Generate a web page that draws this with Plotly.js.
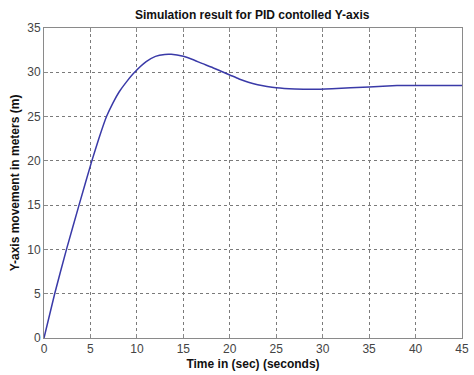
<!DOCTYPE html>
<html>
<head>
<meta charset="utf-8">
<script src="https://cdn.plot.ly/plotly-3.0.1.min.js"></script>
<style>html,body{margin:0;padding:0;background:#fff;}#chart{width:474px;height:375px;}</style>
</head>
<body>
<div id="chart"></div>
<script>
const timeSec = [0, 1.15, 2.42, 3.77, 5.15, 5.9, 6.73, 7.4, 8.1, 8.9, 9.75, 11, 12, 13, 13.7, 15, 16, 17, 18, 19, 20, 21, 22, 23, 24, 25, 27, 29, 31, 35, 38, 40, 45];
const yMovement = [0, 5, 10, 15, 20, 22.5, 25, 26.5, 27.8, 28.95, 30, 31.2, 31.8, 32.02, 32.03, 31.8, 31.45, 31.0, 30.6, 30.15, 29.7, 29.25, 28.88, 28.6, 28.4, 28.25, 28.12, 28.08, 28.15, 28.35, 28.5, 28.52, 28.52];
const xTicks = [0, 5, 10, 15, 20, 25, 30, 35, 40, 45];
const yTicks = [0, 5, 10, 15, 20, 25, 30, 35];

const font = 'Liberation Sans, Arial, sans-serif';
const axisCommon = {
  showline: true, mirror: 'ticks', linecolor: '#8a8a8a', linewidth: 1,
  ticks: 'inside', ticklen: 4, tickcolor: '#8a8a8a',
  showgrid: true, gridcolor: '#7a7a7a', griddash: 'dot', gridwidth: 1,
  zeroline: false,
  tickfont: {family: font, size: 12, color: '#444'}
};
Plotly.newPlot('chart', [{
  x: timeSec, y: yMovement, type: 'scatter', mode: 'lines',
  line: {color: '#3a3aa8', width: 1.5, shape: 'spline', smoothing: 0.5},
  hoverinfo: 'skip'
}], {
  width: 474, height: 375,
  margin: {l: 44, r: 12, t: 28, b: 37},
  paper_bgcolor: '#fff', plot_bgcolor: '#fff',
  showlegend: false,
  title: {text: '<b>Simulation result for PID contolled Y-axis</b>', x: 0.532, xanchor: 'center', y: 0.96, yanchor: 'middle',
          font: {family: font, size: 12, color: '#111'}},
  xaxis: Object.assign({}, axisCommon, {
    range: [0, 45], tickvals: xTicks, ticktext: xTicks.map(String),
    title: {text: '<b>Time in (sec) (seconds)</b>', font: {family: font, size: 12, color: '#111'}, standoff: 4}
  }),
  yaxis: Object.assign({}, axisCommon, {
    range: [0, 35], tickvals: yTicks, ticktext: yTicks.map(String),
    title: {text: '<b>Y-axis movement in meters (m)</b>', font: {family: font, size: 12, color: '#111'}, standoff: 5}
  })
}, {displayModeBar: false, staticPlot: true});
</script>
</body>
</html>
